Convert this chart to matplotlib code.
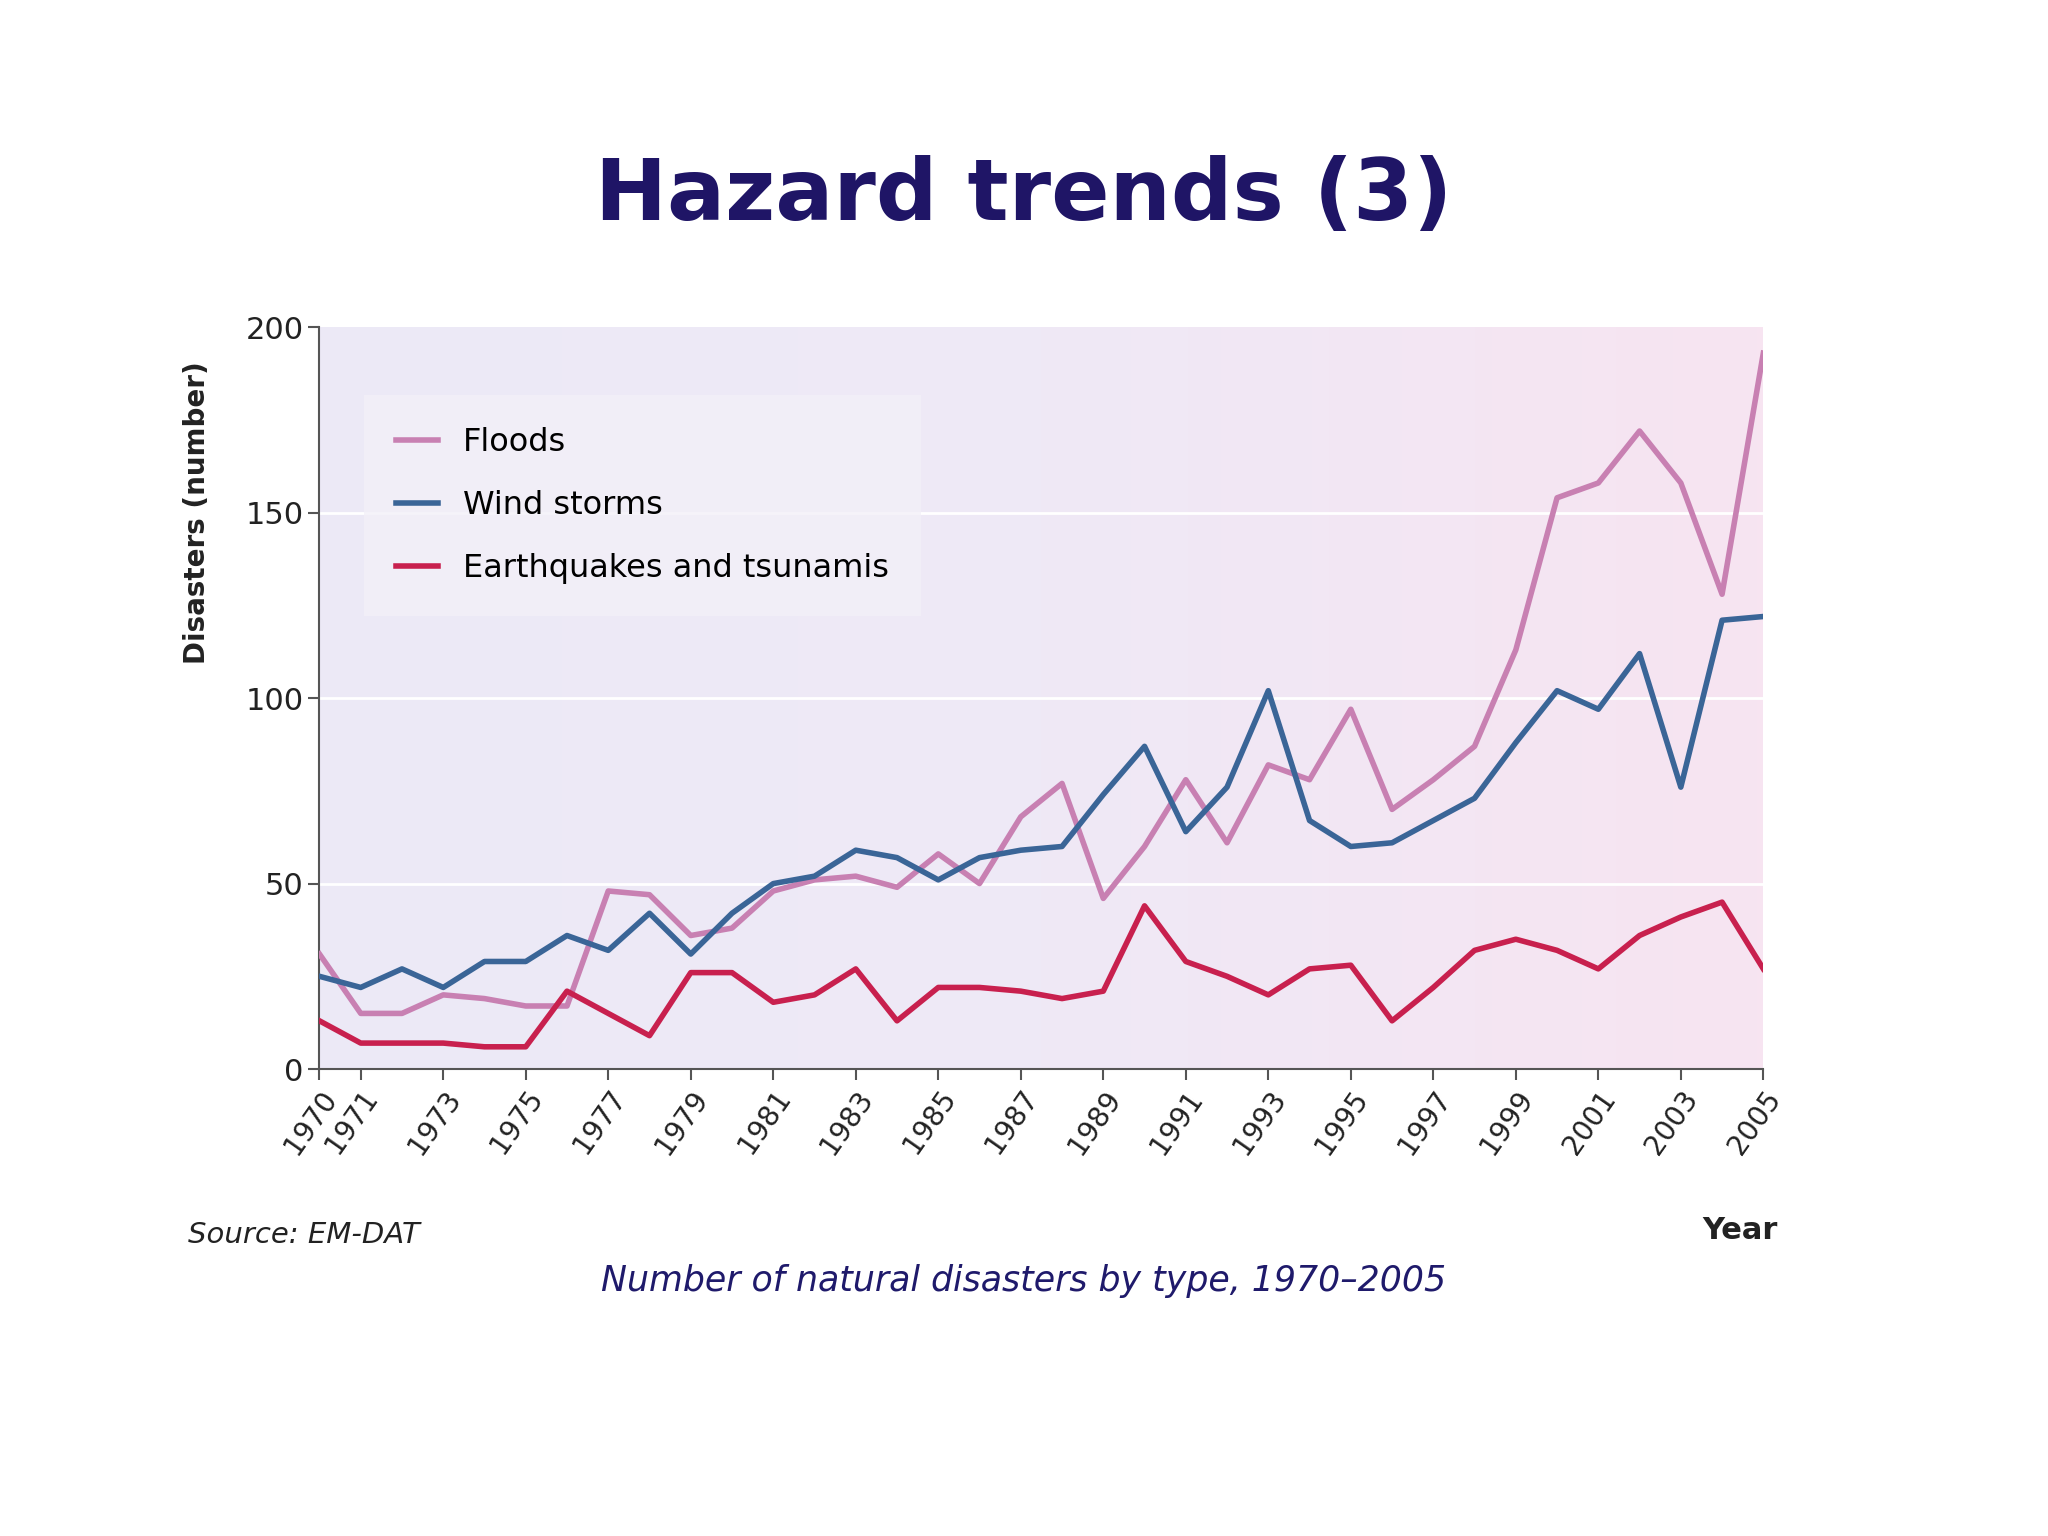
import numpy as np
import matplotlib.pyplot as plt
from matplotlib.colors import LinearSegmentedColormap

years = list(range(1970, 2006))
floods = [31, 15, 15, 20, 19, 17, 17, 48, 47, 36, 38, 48, 51, 52, 49, 58, 50, 68, 77, 46,
          60, 78, 61, 82, 78, 97, 70, 78, 87, 113, 154, 158, 172, 158, 128, 193]
wind = [25, 22, 27, 22, 29, 29, 36, 32, 42, 31, 42, 50, 52, 59, 57, 51, 57, 59, 60, 74,
        87, 64, 76, 102, 67, 60, 61, 67, 73, 88, 102, 97, 112, 76, 121, 122]
quakes = [13, 7, 7, 7, 6, 6, 21, 15, 9, 26, 26, 18, 20, 27, 13, 22, 22, 21, 19, 21,
          44, 29, 25, 20, 27, 28, 13, 22, 32, 35, 32, 27, 36, 41, 45, 27]
tick_years = [1970, 1971] + list(range(1973, 2006, 2))

narrow = ['Liberation Sans Narrow', 'DejaVu Sans']
fig = plt.figure(figsize=(20.48, 15.36), dpi=100)
ax = fig.add_axes([0.156, 0.304, 0.705, 0.483])

# soft lavender-to-pink background
grad = np.linspace(0, 1, 256).reshape(1, -1)
cmap = LinearSegmentedColormap.from_list('bg', ['#ece9f6', '#efe9f6', '#f7e4f1'])
ax.imshow(grad, extent=[1970, 2005, 0, 200], aspect='auto', cmap=cmap, zorder=0)
for y in [50, 100, 150]:
    ax.axhline(y, color='white', lw=2, zorder=1)

ax.plot(years, floods, color='#c880b2', lw=4, label='Floods', zorder=3)
ax.plot(years, wind, color='#3a6597', lw=4, label='Wind storms', zorder=4)
ax.plot(years, quakes, color='#c8204e', lw=4, label='Earthquakes and tsunamis', zorder=5)

ax.set_xlim(1970, 2005)
ax.set_ylim(0, 200)
ax.set_xticks(tick_years)
ax.set_xticklabels([str(y) for y in tick_years], rotation=55, ha='right', va='top',
                   rotation_mode='anchor', family=narrow, fontsize=20, color='#222222')
ax.set_yticks([0, 50, 100, 150, 200])
ax.set_yticklabels(['0', '50', '100', '150', '200'], family=narrow, fontsize=22, color='#222222')
ax.tick_params(length=8, width=1.5, color='#555555')
for s in ['top', 'right']:
    ax.spines[s].set_visible(False)
for s in ['left', 'bottom']:
    ax.spines[s].set_color('#555555')
    ax.spines[s].set_linewidth(1.5)
ax.set_ylabel('Disasters (number)', fontsize=20, fontweight='bold', color='#222222')
ax.yaxis.set_label_coords(-0.075, 0.75)

leg = ax.legend(loc='upper left', bbox_to_anchor=(0.02, 0.93), frameon=True, fancybox=False,
                prop={'family': narrow, 'size': 23}, handlelength=1.3, labelspacing=1.0,
                borderpad=1.0)
leg.get_frame().set_facecolor('#f3f0f8')
leg.get_frame().set_edgecolor('none')

fig.text(0.5, 0.872, 'Hazard trends (3)', ha='center', va='center', fontsize=62,
         fontweight='bold', color='#1f1566')
fig.text(0.092, 0.196, 'Source: EM-DAT', family=narrow, fontsize=21, color='#222222',
         style='italic', va='center')
fig.text(0.868, 0.199, 'Year', family=narrow, fontsize=22, fontweight='bold',
         color='#222222', ha='right', va='center')
fig.text(0.5, 0.166, 'Number of natural disasters by type, 1970–2005', ha='center',
         va='center', fontsize=25, style='italic', color='#1f1a6b')

fig.savefig('out.png')
